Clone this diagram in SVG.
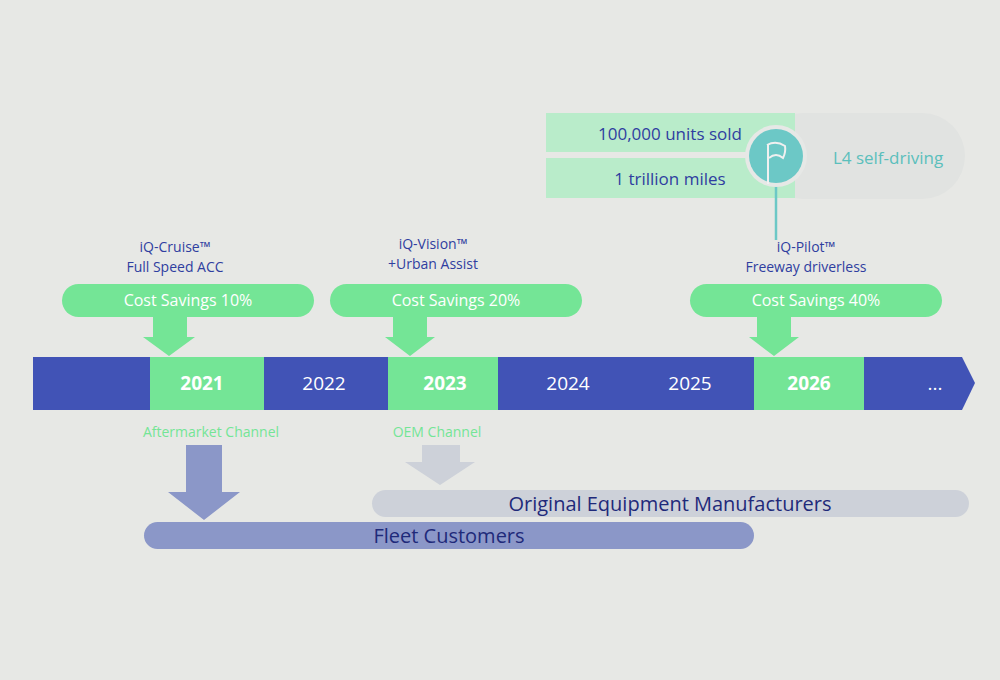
<svg xmlns="http://www.w3.org/2000/svg" width="1000" height="680" viewBox="0 0 1000 680">
<style>
text{font-family:"Open Sans","Liberation Sans",sans-serif;text-anchor:middle}
.bl{fill:#4153b6}.gr{fill:#74e596}
.yr{font-size:19px;fill:#fff}
.lbl{font-size:14px;fill:#2f3ea0}
.pill{font-size:16px;fill:#fff}
.ch{font-size:14px;fill:#74e596}
</style>
<rect width="1000" height="680" fill="#e7e8e5"/>
<g id="milestone">
<rect x="760" y="113" width="205" height="86" rx="43" fill="#e1e3e1"/>
<rect x="546" y="113" width="249" height="39" fill="#b9ecca"/>
<rect x="546" y="158" width="249" height="40" fill="#b9ecca"/>
<text x="670" y="140" style="font-size:17px;fill:#2f3ea0">100,000 units sold</text>
<text x="670" y="185" style="font-size:17px;fill:#2f3ea0">1 trillion miles</text>
<line x1="776" y1="160" x2="776" y2="240" stroke="#6cc8c6" stroke-width="2.5"/>
<circle cx="776" cy="156" r="31" fill="#e6e8e6"/>
<circle cx="776" cy="156" r="27" fill="#6cc8c6"/>
<path d="M767 145 Q776 140 785 146 Q786 152 783 158 Q776 152 769 158" fill="none" stroke="#f0f0f0" stroke-width="2"/>
<line x1="768" y1="144" x2="768" y2="184" stroke="#f0f0f0" stroke-width="2"/>
<text x="888" y="164" style="font-size:17px;fill:#5bbfbc">L4 self-driving</text>
</g>
<g id="timeline">
<path d="M33 357H962L975 383L962 410H33Z" class="bl"/>
<rect x="150" y="357" width="114" height="53" class="gr"/>
<rect x="388" y="357" width="110" height="53" class="gr"/>
<rect x="754" y="357" width="110" height="53" class="gr"/>
<text x="202" y="390" class="yr" font-weight="bold">2021</text>
<text x="324" y="390" class="yr">2022</text>
<text x="445" y="390" class="yr" font-weight="bold">2023</text>
<text x="568" y="390" class="yr">2024</text>
<text x="690" y="390" class="yr">2025</text>
<text x="809" y="390" class="yr" font-weight="bold">2026</text>
<text x="935" y="390" class="yr">...</text>
</g>
<g id="m2021">
<text x="175" y="252" class="lbl">iQ-Cruise™</text>
<text x="175" y="272" class="lbl">Full Speed ACC</text>
<rect x="62" y="284" width="252" height="33" rx="16.5" class="gr"/>
<text x="188" y="306" class="pill">Cost Savings 10%</text>
<path d="M153 317H187V337H195L169 356L143 337H153Z" class="gr"/>
</g>
<g id="m2023">
<text x="433" y="249" class="lbl">iQ-Vision™</text>
<text x="433" y="269" class="lbl">+Urban Assist</text>
<rect x="330" y="284" width="252" height="33" rx="16.5" class="gr"/>
<text x="456" y="306" class="pill">Cost Savings 20%</text>
<path d="M393 317H427V337H435L410 356L385 337H393Z" class="gr"/>
</g>
<g id="m2026">
<text x="806" y="252" class="lbl">iQ-Pilot™</text>
<text x="806" y="272" class="lbl">Freeway driverless</text>
<rect x="690" y="284" width="252" height="33" rx="16.5" class="gr"/>
<text x="816" y="306" class="pill">Cost Savings 40%</text>
<path d="M757 317H791V337H799L774 356L749 337H757Z" class="gr"/>
</g>
<g id="channels">
<text x="211" y="437" class="ch">Aftermarket Channel</text>
<text x="437" y="437" class="ch">OEM Channel</text>
<path d="M186 445H222V492H240L204 520L168 492H186Z" fill="#8b97c8"/>
<path d="M422 445H460V462H475L440 485L405 462H422Z" fill="#cdd1d9"/>
</g>
<g id="oem">
<rect x="372" y="490" width="597" height="27" rx="13.5" fill="#cdd1d9"/>
<text x="670" y="511" style="font-size:20px;fill:#1f2a7a">Original Equipment Manufacturers</text>
</g>
<g id="fleet">
<rect x="144" y="522" width="610" height="27" rx="13.5" fill="#8b97c8"/>
<text x="449" y="543" style="font-size:20px;fill:#1f2a7a">Fleet Customers</text>
</g>
</svg>
